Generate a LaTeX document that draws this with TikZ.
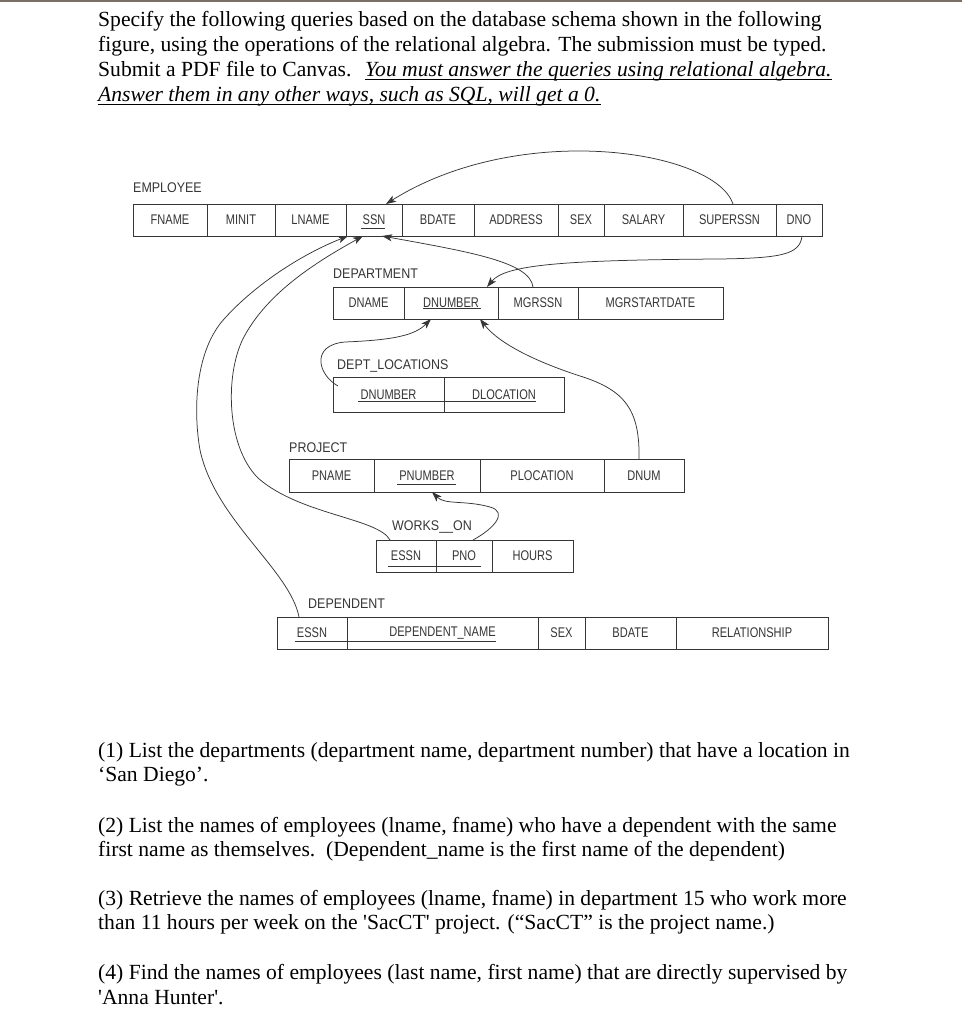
\documentclass[tikz,border=0pt]{standalone}
\usepackage{fontspec}
\setmainfont{Liberation Serif}
\newfontfamily\relfont[FakeStretch=0.89]{Liberation Sans}
\newfontfamily\attfont[FakeStretch=0.79]{Liberation Sans}
\usetikzlibrary{arrows.meta}
\definecolor{schema}{HTML}{363636}
\definecolor{rulecol}{HTML}{7A6E66}
\tikzset{
  cell/.style={draw=schema, line width=0.8pt, minimum height=32pt, inner sep=0pt, outer sep=0pt,
    text=schema, font=\attfont\fontsize{14}{16}\selectfont},
  relname/.style={anchor=west, inner sep=0pt, text=schema, font=\relfont\fontsize{14}{16}\selectfont},
  keyline/.style={schema, line width=0.8pt},
  fk/.style={schema, line width=0.75pt, -{Stealth[length=10pt,width=7pt,inset=2.5pt]}},
  txt/.style={anchor=base west, inner sep=0pt, font=\fontsize{21.6}{25}\selectfont}
}
\begin{document}
\begin{tikzpicture}[x=1pt, y=-1pt]
\useasboundingbox (0,0) rectangle (962,1024);
\fill[white] (0,0) rectangle (962,1024);
\draw[rulecol, line width=2pt] (0,1) -- (962,1);

% task
\node[txt] (l1) at (98,26.5) {Specify the following queries based on the database schema shown in the following};
\node[txt] (l2) at (98,51.5) {figure, using the operations of the relational algebra. The submission must be typed.};
\node[txt] (l3) at (98,76.5) {Submit a PDF file to Canvas.};
\node[txt, font=\fontsize{21.6}{25}\selectfont\itshape] (l3b) at (365,76.5) {You must answer the queries using relational algebra.};
\node[txt, font=\fontsize{21.6}{25}\selectfont\itshape] (l4) at (98,101.5) {Answer them in any other ways, such as SQL, will get a 0.};
\draw[line width=1.2pt] ([yshift=-3pt]l3b.base west) -- ([yshift=-3pt]l3b.base east);
\draw[line width=1.2pt] ([yshift=-3pt]l4.base west) -- ([yshift=-3pt]l4.base east);

% EMPLOYEE
\node[relname] (emp) at (133,188) {EMPLOYEE};
\foreach \n/\lab/\a/\b in {fname/FNAME/133/207, minit/MINIT/207/275, lname/LNAME/275/346, ssn/SSN/346/402,
    bdate/BDATE/402/474, address/ADDRESS/474/558, esex/SEX/558/604, salary/SALARY/604/683,
    superssn/SUPERSSN/683/776, dno/DNO/776/822}
  \node[cell, minimum width={(\b-\a)*1pt}] (\n) at ({(\a+\b)/2},220) {\lab};

% DEPARTMENT
\node[relname] (dept) at (333,274) {DEPARTMENT};
\foreach \n/\lab/\a/\b in {dname/DNAME/333/404, dnumber/DNUMBER/404/498, mgrssn/MGRSSN/498/578,
    mgrdate/MGRSTARTDATE/578/723}
  \node[cell, minimum width={(\b-\a)*1pt}] (\n) at ({(\a+\b)/2},303) {\lab};

% DEPT_LOCATIONS
\node[relname] (dloc) at (337,366) {DEPT\_LOCATIONS};
\foreach \n/\lab/\a/\b in {dlnumber/DNUMBER/333/444, dlocation/DLOCATION/444/564}
  \node[cell, minimum height=35pt, minimum width={(\b-\a)*1pt}] (\n) at ({(\a+\b)/2},394.5) {\lab};

% PROJECT
\node[relname] (proj) at (289,448) {PROJECT};
\foreach \n/\lab/\a/\b in {pname/PNAME/289/374, pnumber/PNUMBER/374/480, plocation/PLOCATION/480/604,
    dnum/DNUM/604/684}
  \node[cell, minimum height=33pt, minimum width={(\b-\a)*1pt}] (\n) at ({(\a+\b)/2},475.5) {\lab};

% WORKS_ON
\node[relname] (works) at (392,527) {WORKS\_\_ON};
\foreach \n/\lab/\a/\b in {essn/ESSN/376/436, pno/PNO/436/492, hours/HOURS/492/573}
  \node[cell, minimum width={(\b-\a)*1pt}] (\n) at ({(\a+\b)/2},556) {\lab};

% DEPENDENT
\node[relname] (dep) at (308,604) {DEPENDENT};
\foreach \n/\lab/\a/\b in {dessn/ESSN/277/347, depname/DEPENDENT\_NAME/347/538, dsex/SEX/538/585,
    dbdate/BDATE/585/676, relship/RELATIONSHIP/676/828}
  \node[cell, minimum width={(\b-\a)*1pt}] (\n) at ({(\a+\b)/2},633) {\lab};

% keys
\foreach \a/\b/\y in {361/385/228, 423/481/308, 358/536/401, 397/456/484, 388/481/566, 295/496/641}
  \draw[keyline] (\a,\y) -- (\b,\y);

% foreign keys
\draw[fk] ([xshift=3.5pt]superssn.north) .. controls (715,150) and (520,120) .. ([xshift=12pt]ssn.north);
\draw[fk] ([xshift=3pt]dno.south) .. controls (800,255) and (780,258) .. (720,259)
  .. controls (560,260) and (505,265) .. ([xshift=36pt]dnumber.north);
\draw[fk] ([xshift=-5pt]mgrssn.north) .. controls (530,262) and (470,252) .. ([xshift=8pt]ssn.south);
\draw[fk] ([xshift=-16pt]essn.north) .. controls (378,518) and (300,515) .. (258,478)
  .. controls (225,445) and (225,370) .. (245,335) .. controls (270,290) and (320,260) .. ([xshift=-11pt]ssn.south);
\draw[fk] ([xshift=-13pt]dessn.north) .. controls (290,570) and (215,520) .. (200,450)
  .. controls (193,410) and (195,350) .. (225,318) .. controls (255,285) and (300,255) .. ([xshift=-26pt]ssn.south);
\draw[fk] ([xshift=9pt]pno.north) .. controls (495,528) and (508,512) .. (490,507)
  .. controls (465,500) and (445,505) .. ([xshift=5pt]pnumber.south);
\draw[fk] ([xshift=5pt,yshift=-9pt]dlnumber.north west) .. controls (318,375) and (310,345) .. (345,342)
  .. controls (395,340) and (415,335) .. ([xshift=-20pt]dnumber.south);
\draw[fk] ([xshift=-5pt]dnum.north) .. controls (640,410) and (625,390) .. (580,376)
  .. controls (540,363) and (500,345) .. ([xshift=29pt]dnumber.south);

% questions
\node[txt] (q1a) at (98,757) {(1) List the departments (department name, department number) that have a location in};
\node[txt] (q1b) at (98,781) {‘San Diego’.};
\node[txt] (q2a) at (98,832) {(2) List the names of employees (lname, fname) who have a dependent with the same};
\node[txt] (q2b) at (98,856) {first name as themselves.\ \ (Dependent\_name is the first name of the dependent)};
\node[txt] (q3a) at (98,905) {(3) Retrieve the names of employees (lname, fname) in department 15 who work more};
\node[txt] (q3b) at (98,929) {than 11 hours per week on the \textquotesingle SacCT\textquotesingle\ project. (“SacCT” is the project name.)};
\node[txt] (q4a) at (98,979) {(4) Find the names of employees (last name, first name) that are directly supervised by};
\node[txt] (q4b) at (98,1004) {\textquotesingle Anna Hunter\textquotesingle.};
\end{tikzpicture}
\end{document}
